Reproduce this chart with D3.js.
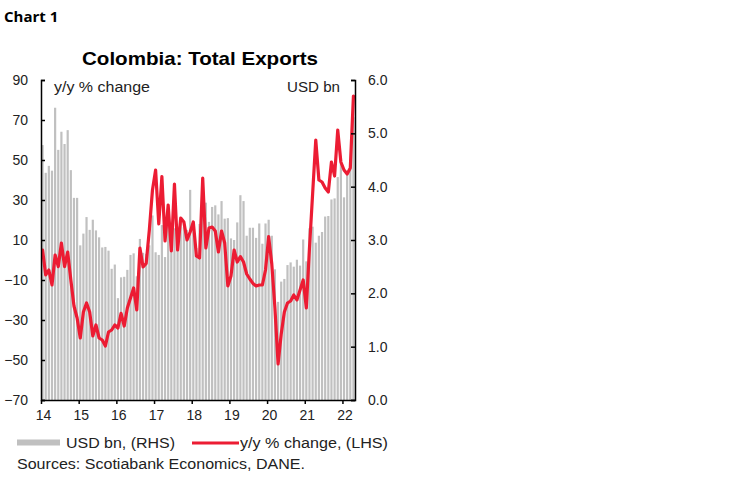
<!DOCTYPE html>
<html>
<head>
<meta charset="utf-8">
<script src="https://cdn.jsdelivr.net/npm/d3@7"></script>
<style>
  html, body { margin: 0; padding: 0; background: #fff; }
  svg { display: block; font-family: "Liberation Sans", Arial, sans-serif; }
</style>
</head>
<body>
<svg id="chart" width="750" height="483"></svg>
<script>
// ---- Data (monthly, Jan 2014 .. Apr 2022) ----
const startYear = 2014;
const exportsUSDbn = [
  4.78, 4.26, 4.39, 4.30, 5.48, 4.69, 5.03, 4.80, 5.06, 4.31, 3.79, 3.79,
  2.90, 3.12, 3.43, 3.19, 3.38, 3.18, 3.05, 2.86, 2.87, 2.80, 2.46, 2.54,
  1.91, 2.30, 2.31, 2.44, 2.72, 2.75, 2.32, 3.02, 2.76, 2.74, 2.90, 3.46,
  2.77, 2.72, 3.28, 2.68, 3.47, 2.88, 3.22, 3.17, 3.33, 3.24, 3.19, 3.94,
  3.32, 2.85, 3.30, 3.78, 3.70, 3.34, 3.62, 3.65, 3.48, 3.73, 3.40, 3.41,
  3.03, 3.00, 3.33, 3.84, 3.73, 3.08, 3.23, 3.23, 3.04, 3.31, 2.93, 3.31,
  3.38, 3.08, 2.45, 1.84, 2.22, 2.27, 2.53, 2.58, 2.50, 2.63, 2.52, 3.01,
  2.60, 3.22, 3.25, 2.95, 3.08, 3.15, 3.44, 3.45, 3.76, 3.78, 4.18, 4.45,
  3.80, 4.30, 4.45, 5.30
];
const yoyPct = [
   5, -7.5, -5, -12.5, 2.5, -3.3, 8.5, -3.3, 4, -10, -23, -29,
  -39, -26, -21.5, -26, -38, -32.5, -39, -40, -43, -36, -35, -32.5,
  -34, -26.7, -33, -24, -19, -14, -25, 6, -3.5, -1.7, 15, 35,
   45, 18, 41.7, 9.5, 27.5, 4.5, 38, 5, 21, 19, 10, 14,
   19, 2, 1, 41, 6, 16, 16.5, 14.5, 4, 14.5, 8.5, -13,
  -8, 5, -1, 1.7, -1, -7, -9.5, -11.7, -13, -12.5, -12.5, -5,
  11.7, -2, -24, -52, -37, -26, -21.5, -20.5, -17.5, -20, -15, -10,
  -24, 6, 33, 60, 40, 39, 36, 34, 49, 42, 65, 49,
   45, 43, 46, 82
];
const xTickLabels = ["14", "15", "16", "17", "18", "19", "20", "21", "22"];
const leftTicks = [-70, -50, -30, -10, 10, 30, 50, 70, 90];
const rightTicks = [0, 1, 2, 3, 4, 5, 6];

// ---- Layout ----
const svg = d3.select("#chart");
const L = 41, R = 355, T = 80, B = 400;
const red = "#EC1C33", grey = "#C0C0C0";
const font = "13.5px";

const idx = d3.range(exportsUSDbn.length);
const xBand = d3.scaleBand().domain(idx).range([L, R]).paddingInner(0.3).paddingOuter(0.15);
const xLin = d3.scaleLinear().domain([0, idx.length]).range([L, R]);
const yL = d3.scaleLinear().domain([-70, 90]).range([B, T]);
const yR = d3.scaleLinear().domain([0, 6]).range([B, T]);

function stretchText(sel, len) {
  return sel.attr("textLength", len).attr("lengthAdjust", "spacingAndGlyphs");
}

// Titles
svg.append("text").attr("x", 4).attr("y", 22)
  .attr("font-family", "'Open Sans', sans-serif").attr("font-weight", 700)
  .attr("font-size", "15px").attr("fill", "#000").text("Chart 1");
stretchText(svg.append("text").attr("x", 82).attr("y", 65)
  .attr("font-weight", 700).attr("font-size", "18.5px").attr("fill", "#000")
  .text("Colombia: Total Exports"), 236);

// Bars
svg.append("g").selectAll("rect").data(idx).join("rect")
  .attr("x", i => xBand(i))
  .attr("width", xBand.bandwidth())
  .attr("y", i => yR(exportsUSDbn[i]))
  .attr("height", i => yR(0) - yR(exportsUSDbn[i]))
  .attr("fill", grey);

// Line
const line = d3.line()
  .x(i => xBand(i) + xBand.bandwidth() / 2)
  .y(i => yL(yoyPct[i]))
  .curve(d3.curveLinear);
svg.append("path").datum(idx).attr("d", line)
  .attr("fill", "none").attr("stroke", red).attr("stroke-width", 3.2)
  .attr("stroke-linejoin", "round").attr("stroke-linecap", "round");

// Axes
function styleAxis(g) {
  g.selectAll(".domain").attr("stroke", "#000").attr("stroke-width", 1.5);
  g.selectAll(".tick line").attr("stroke", "#000").attr("stroke-width", 1.5);
  g.selectAll(".tick text").attr("fill", "#222").attr("font-size", "14px")
    .attr("font-family", "'Liberation Sans', Arial, sans-serif");
}
const gL = svg.append("g").attr("transform", `translate(${L},0)`)
  .call(d3.axisLeft(yL).tickValues(leftTicks).tickSizeInner(-4).tickSizeOuter(-4).tickPadding(13));
styleAxis(gL);
const gR = svg.append("g").attr("transform", `translate(${R},0)`)
  .call(d3.axisRight(yR).tickValues(rightTicks).tickFormat(d3.format(".1f")).tickSizeInner(-4).tickSizeOuter(-4).tickPadding(13));
styleAxis(gR);
const gB = svg.append("g").attr("transform", `translate(0,${B})`)
  .call(d3.axisBottom(xLin).tickValues(d3.range(0, 97, 12))
    .tickFormat((d, k) => xTickLabels[k]).tickSizeInner(4).tickSizeOuter(0).tickPadding(6));
styleAxis(gB);
gB.selectAll(".tick text").attr("dx", 2);

// Axis unit labels
stretchText(svg.append("text").attr("x", 54).attr("y", 92).attr("font-size", "14px").attr("fill", "#222")
  .text("y/y % change"), 96);
stretchText(svg.append("text").attr("x", 287).attr("y", 92).attr("font-size", "14px").attr("fill", "#222")
  .text("USD bn"), 53);

// Legend
svg.append("rect").attr("x", 17).attr("y", 439.5).attr("width", 43).attr("height", 6).attr("fill", grey);
stretchText(svg.append("text").attr("x", 66).attr("y", 448).attr("font-size", "14px").attr("fill", "#222")
  .text("USD bn, (RHS)"), 109);
svg.append("line").attr("x1", 192).attr("x2", 239).attr("y1", 443).attr("y2", 443)
  .attr("stroke", red).attr("stroke-width", 3);
stretchText(svg.append("text").attr("x", 240).attr("y", 448).attr("font-size", "14px").attr("fill", "#222")
  .text("y/y % change, (LHS)"), 148);
stretchText(svg.append("text").attr("x", 17).attr("y", 469).attr("font-size", "14px").attr("fill", "#222")
  .text("Sources: Scotiabank Economics, DANE."), 288);
</script>
</body>
</html>
